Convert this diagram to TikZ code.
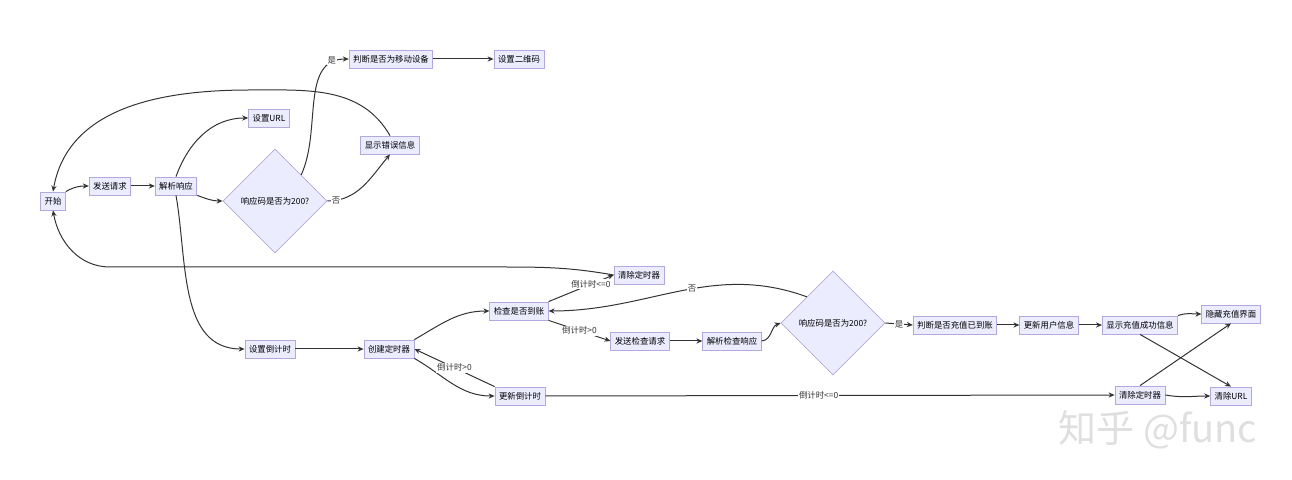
\documentclass[tikz,border=0pt]{standalone}
\usepackage{fontspec}
\setmainfont{Noto Sans CJK SC}
\usetikzlibrary{arrows.meta,shapes.geometric}
\definecolor{boxfill}{HTML}{ECECFF}
\definecolor{boxline}{HTML}{B4A8E0}
\definecolor{edgeline}{HTML}{333333}
\begin{document}
\begin{tikzpicture}[x=0.5pt, y=-0.5pt, font=\fontsize{4.2}{5}\selectfont,
	styleBox/.style={draw=boxline, fill=boxfill, line width=0.4pt, inner sep=2pt, minimum height=9pt},
	styleDiamond/.style={draw=boxline, fill=boxfill, line width=0.4pt, diamond, aspect=1.1, inner sep=0pt, minimum size=52pt},
	styleEdge/.style={draw=edgeline, line width=0.5pt, -{Stealth[length=3pt,width=2.6pt]}},
	styleLabel/.style={fill=white, inner sep=0.5pt, text=edgeline}]

	\useasboundingbox (0,0) rectangle (1292,480);

	% 上半分
	\node[styleBox] (start) at (53,201) {开始};
	\node[styleBox] (sendReq) at (110,186) {发送请求};
	\node[styleBox] (parseResp) at (176,186) {解析响应};
	\node[styleBox] (setUrl) at (269,118) {设置URL};
	\node[styleDiamond] (codeA) at (275,201) {响应码是否为200?};
	\node[styleBox] (isMobile) at (391,59) {判断是否为移动设备};
	\node[styleBox] (setQr) at (519,59) {设置二维码};
	\node[styleBox] (showErr) at (390,145) {显示错误信息};

	% 下半分
	\node[styleBox] (clearTimerA) at (639,275) {清除定时器};
	\node[styleBox] (checkPaid) at (519,311) {检查是否到账};
	\node[styleBox] (setCount) at (270,349) {设置倒计时};
	\node[styleBox] (makeTimer) at (389,349) {创建定时器};
	\node[styleBox] (sendCheck) at (640,341) {发送检查请求};
	\node[styleBox] (parseCheck) at (732,341) {解析检查响应};
	\node[styleDiamond] (codeB) at (833,323) {响应码是否为200?};
	\node[styleBox] (isPaid) at (955,325) {判断是否充值已到账};
	\node[styleBox] (updUser) at (1049,325) {更新用户信息};
	\node[styleBox] (showOk) at (1140,325) {显示充值成功信息};
	\node[styleBox] (hidePay) at (1231,314) {隐藏充值界面};
	\node[styleBox] (updCount) at (520,396) {更新倒计时};
	\node[styleBox] (clearTimerB) at (1140,395) {清除定时器};
	\node[styleBox] (clearUrl) at (1231,396) {清除URL};

	% 辺
	\draw[styleEdge] (start.north east) to[out=30,in=180] (sendReq.west);
	\draw[styleEdge] (sendReq) -- (parseResp);
	\draw[styleEdge] (parseResp.north) to[out=70,in=180] (setUrl.west);
	\draw[styleEdge] (parseResp.south east) to[out=-20,in=180] (codeA.west);
	\draw[styleEdge] (parseResp.south) to[out=-80,in=180] (setCount.west);
	\draw[styleEdge] (codeA.north east) to[out=65,in=180] node[styleLabel, pos=0.93, left=1pt] {是} (isMobile.west);
	\draw[styleEdge] (codeA.east) to[out=0,in=230] node[styleLabel, pos=0.1] {否} (showErr.south);
	\draw[styleEdge] (isMobile) -- (setQr);
	\draw[styleEdge] (showErr.north) to[out=120,in=0] (250,90) to[out=180,in=80] (start.north);
	\draw[styleEdge] (clearTimerA.west) to[out=170,in=0] (500,267) -- (110,267) to[out=180,in=-80] (start.south);

	\draw[styleEdge] (setCount) -- (makeTimer);
	\draw[styleEdge] (makeTimer.north east) to[out=30,in=180] (checkPaid.west);
	\draw[styleEdge] (makeTimer.south east) to[out=-30,in=180] (updCount.west);
	\draw[styleEdge] (updCount.north west) -- node[styleLabel, pos=0.5] {倒计时>0} (makeTimer.east);
	\draw[styleEdge] (checkPaid.north east) -- node[styleLabel, pos=0.65] {倒计时<=0} (clearTimerA.west);
	\draw[styleEdge] (checkPaid.south east) -- node[styleLabel, pos=0.5] {倒计时>0} (sendCheck.west);
	\draw[styleEdge] (sendCheck) -- (parseCheck);
	\draw[styleEdge] (parseCheck.east) to[out=5,in=200] (codeB.west);
	\draw[styleEdge] (codeB.north west) to[out=160,in=0] node[styleLabel, pos=0.45] {否} (checkPaid.east);
	\draw[styleEdge] (codeB.east) -- node[styleLabel] {是} (isPaid.west);
	\draw[styleEdge] (isPaid) -- (updUser);
	\draw[styleEdge] (updUser) -- (showOk);
	\draw[styleEdge] (showOk.north east) to[out=20,in=180] (hidePay.west);
	\draw[styleEdge] (showOk.south) -- (clearUrl.north);
	\draw[styleEdge] (updCount.east) -- node[styleLabel, pos=0.48] {倒计时<=0} (clearTimerB.west);
	\draw[styleEdge] (clearTimerB.north) -- (hidePay.south);
	\draw[styleEdge] (clearTimerB.east) to[out=-10,in=180] (clearUrl.west);

	% 透かし
	\node[text=gray!25, font=\fontsize{19}{21}\selectfont] (mark) at (1158,430) {知乎 @func};
\end{tikzpicture}
\end{document}
